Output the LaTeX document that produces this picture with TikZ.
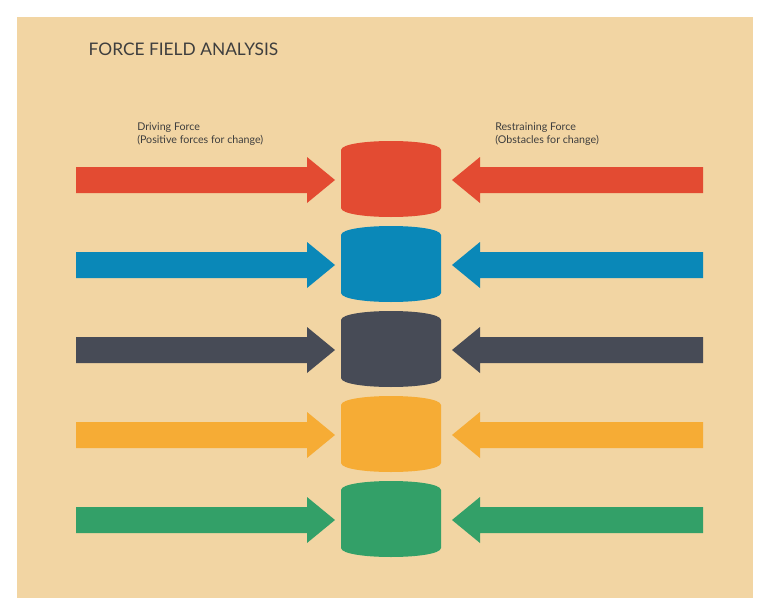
\documentclass[tikz,border=0pt]{standalone}
\usepackage{fontspec}
\setmainfont{Lato}
\definecolor{fieldbg}{HTML}{F2D5A3}
\definecolor{forcered}{HTML}{E34B32}
\definecolor{forceblue}{HTML}{0A88B8}
\definecolor{forcedark}{HTML}{474B56}
\definecolor{forceorange}{HTML}{F6AC35}
\definecolor{forcegreen}{HTML}{33A068}
\definecolor{forcetext}{HTML}{3E3E3E}
\newcommand\forcelabelstyle{\fontsize{8}{10}\selectfont}
% one row: driving arrow, change cylinder, restraining arrow
\newcommand\forcerow[2]{
  \fill[#1] (76, #2 - 13) -- (307, #2 - 13) -- (307, #2 - 23) -- (335, #2)
    -- (307, #2 + 23) -- (307, #2 + 13) -- (76, #2 + 13) -- cycle ;
  \fill[#1] (703, #2 - 13) -- (480, #2 - 13) -- (480, #2 - 23) -- (452, #2)
    -- (480, #2 + 23) -- (480, #2 + 13) -- (703, #2 + 13) -- cycle ;
  \fill[#1] (341, #2 - 30) -- (341, #2 + 28)
    .. controls (342, #2 + 40) and (440, #2 + 40) .. (441, #2 + 28)
    -- (441, #2 - 30)
    .. controls (440, #2 - 42) and (342, #2 - 42) .. (341, #2 - 30) -- cycle ;
}

\begin{document}
\begin{tikzpicture}[x=0.75pt, y=-0.75pt]
  \useasboundingbox (0, 0) rectangle (768, 614) ;
  \fill[white] (0, 0) rectangle (768, 614) ;
  \fill[fieldbg] (17, 17) rectangle (753, 598) ;
  \node[anchor=west, text=forcetext, font=\fontsize{13}{15}\selectfont] (title) at (84, 49) {FORCE FIELD ANALYSIS} ;
  \node[anchor=north west, align=left, text=forcetext, font=\forcelabelstyle, inner sep=0pt] (driving) at (137, 122)
    {Driving Force\\(Positive forces for change)} ;
  \node[anchor=north west, align=left, text=forcetext, font=\forcelabelstyle, inner sep=0pt] (restraining) at (495, 122)
    {Restraining Force\\(Obstacles for change)} ;
  \forcerow{forcered}{180}
  \forcerow{forceblue}{265}
  \forcerow{forcedark}{350}
  \forcerow{forceorange}{435}
  \forcerow{forcegreen}{520}
\end{tikzpicture}
\end{document}
